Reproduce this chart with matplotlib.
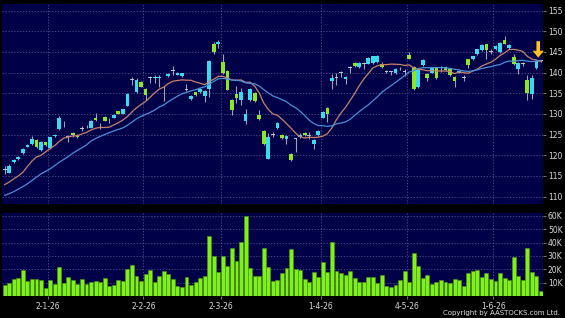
import numpy as np
import pandas as pd
import matplotlib
matplotlib.use("Agg")
import matplotlib.pyplot as plt

# daily OHLC
opens = [116.5, 115.8, 118.3, 119.0, 120.5, 122.0, 122.6, 123.8, 121.3, 123.1,
         121.8, 124.6, 126.4, 127.5, 124.4, 125.5, 125.0, 126.4, 127.0, 126.7,
         129.1, 127.2, 129.3, 128.5, 129.1, 130.6, 130.1, 131.9, 138.2, 135.2,
         137.8, 136.0, 138.7, 138.7, 138.7, 135.0, 139.1, 140.4, 139.5, 139.1,
         135.8, 133.6, 135.2, 135.2, 134.4, 136.0, 146.9, 146.9, 142.5, 140.4,
         133.3, 134.8, 133.3, 128.3, 133.3, 135.1, 129.8, 125.9, 119.2, 125.0,
         126.6, 125.0, 123.9, 120.4, 124.0, 124.4, 125.5, 124.7, 122.8, 124.8,
         129.1, 131.4, 138.0, 138.8, 140.0, 138.5, 141.1, 142.4, 141.3, 142.1,
         142.2, 142.3, 142.5, 142.1, 140.2, 140.2, 139.8, 141.0, 140.2, 144.2,
         141.3, 136.5, 141.8, 139.6, 140.0, 141.0, 141.1, 141.4, 140.8, 139.0,
         140.0, 138.8, 143.2, 143.2, 144.5, 145.5, 146.8, 145.1, 145.7, 144.9,
         147.9, 146.0, 143.8, 140.8, 142.2, 138.3, 134.8, 141.0, 142.8]
closes = [116.5, 117.5, 118.9, 119.5, 121.5, 122.5, 123.9, 122.0, 123.3, 122.5,
          124.3, 125.0, 128.9, 127.5, 124.4, 124.9, 124.4, 126.4, 127.0, 128.3,
          128.5, 127.2, 128.4, 128.5, 129.8, 130.1, 131.1, 134.7, 138.2, 138.2,
          136.6, 134.5, 138.7, 139.0, 138.9, 135.0, 139.6, 140.4, 139.9, 139.8,
          135.8, 134.3, 134.5, 136.0, 135.5, 142.8, 144.9, 147.4, 139.8, 135.9,
          130.9, 133.8, 135.3, 130.1, 136.0, 133.2, 128.7, 122.6, 124.4, 125.0,
          127.9, 124.2, 124.6, 118.9, 124.0, 125.0, 124.8, 124.7, 123.8, 125.8,
          130.4, 130.1, 138.7, 138.8, 140.0, 139.0, 141.1, 141.6, 142.4, 142.1,
          143.6, 143.9, 144.1, 141.3, 140.2, 140.2, 140.8, 141.0, 140.2, 143.4,
          136.0, 140.8, 143.1, 138.7, 141.0, 138.7, 141.1, 140.6, 139.4, 138.0,
          140.4, 138.8, 141.8, 143.9, 145.6, 146.7, 145.5, 145.1, 146.4, 147.2,
          147.0, 146.6, 142.0, 142.4, 142.2, 135.1, 138.6, 142.8, 142.8]
highs = [117.3, 117.8, 119.1, 119.7, 121.7, 122.7, 124.6, 124.0, 123.5, 123.3,
         124.5, 125.2, 129.6, 128.3, 125.0, 125.7, 125.2, 127.0, 127.4, 128.5,
         130.3, 127.7, 129.5, 129.0, 130.0, 130.8, 131.3, 135.0, 138.9, 138.6,
         138.0, 136.2, 139.2, 139.4, 139.3, 136.8, 139.9, 141.5, 140.1, 140.0,
         137.3, 134.5, 135.4, 136.2, 135.7, 143.0, 147.4, 147.8, 144.5, 140.6,
         133.5, 136.8, 136.3, 131.1, 136.2, 135.3, 130.9, 126.1, 125.5, 125.7,
         128.1, 125.2, 124.8, 120.6, 124.2, 125.3, 125.7, 125.6, 124.0, 126.0,
         130.6, 131.6, 139.6, 139.9, 140.4, 139.2, 141.6, 142.6, 142.6, 142.6,
         143.8, 144.1, 144.3, 142.6, 140.6, 140.5, 141.0, 141.4, 140.8, 144.9,
         141.5, 141.0, 143.3, 139.8, 141.2, 141.2, 141.5, 141.6, 141.0, 139.2,
         140.6, 139.3, 143.4, 144.1, 145.8, 146.9, 147.0, 145.6, 146.6, 147.4,
         148.9, 146.8, 144.6, 142.6, 142.6, 139.3, 139.3, 143.0, 143.0]
lows = [115.5, 115.6, 118.1, 118.9, 120.3, 121.9, 122.4, 121.8, 121.1, 122.3,
        121.6, 124.5, 126.2, 126.8, 123.2, 124.4, 124.2, 125.9, 126.5, 126.5,
        128.3, 126.3, 128.2, 127.8, 129.0, 130.0, 130.0, 131.8, 137.0, 135.0,
        136.4, 133.3, 137.5, 137.6, 136.5, 133.2, 138.9, 139.4, 139.3, 138.9,
        135.6, 133.4, 134.3, 135.0, 133.0, 134.1, 144.6, 145.9, 139.6, 135.7,
        129.7, 132.6, 132.1, 127.5, 133.1, 133.0, 128.5, 122.4, 119.0, 124.4,
        126.4, 124.0, 122.6, 118.7, 120.8, 124.2, 124.6, 123.9, 121.4, 124.6,
        128.9, 128.0, 136.0, 136.9, 139.0, 137.2, 140.0, 141.4, 141.1, 140.8,
        142.0, 142.1, 142.3, 141.1, 139.8, 139.5, 139.6, 140.6, 139.1, 143.2,
        135.8, 136.3, 141.6, 138.0, 139.8, 138.5, 140.2, 140.4, 139.2, 136.5,
        139.8, 138.0, 141.0, 143.0, 144.3, 145.3, 143.4, 144.5, 145.5, 144.7,
        146.8, 145.8, 141.8, 139.6, 141.5, 133.4, 133.6, 140.8, 142.6]
volume_k = [8.5, 9.5, 12.5, 13.5, 19.5, 11, 12.5, 13, 12, 5.8,
            11.7, 9.2, 21.7, 10, 14.2, 12, 9, 12.5, 9.2, 10.5,
            11.5, 10.2, 13.5, 7.2, 8, 11.7, 11.5, 20.5, 23.5, 14.7,
            11.5, 16.2, 19.5, 10.7, 15.2, 18.7, 16.5, 12.7, 7.5, 7,
            14.5, 8.5, 10.5, 13.5, 15.2, 44.7, 30.2, 18.2, 30.2, 22.2,
            35.7, 26.2, 40.7, 59.7, 20.7, 15.2, 14.7, 35.7, 21.7, 11.5,
            12.2, 17, 21.2, 35, 20, 19.2, 13, 10.5, 18, 14,
            25.2, 17.7, 40.2, 18.5, 17, 15.5, 18.5, 13.2, 10.7, 10.5,
            14, 14, 9.5, 16, 7.7, 6.5, 8, 12.2, 19, 10.7,
            32, 22.5, 13.5, 16, 9.2, 10.2, 11.7, 10.5, 9.5, 12.7,
            12.2, 7.7, 17.2, 18.7, 19.7, 14.5, 17.5, 13, 11.2, 17.5,
            13.2, 12.2, 29.5, 15.2, 11.7, 35.7, 18, 15, 3.5]

# moving averages before enough history is on screen
ma10_head = [112.9, 113.5, 114.3, 115.0, 115.9, 117.3, 118.6, 119.6, 120.0]
ma20_head = [110.3, 110.7, 111.2, 111.8, 112.4, 113.1, 113.9, 114.7, 115.5, 116.1,
             116.7, 117.5, 118.3, 119.0, 119.7, 120.5, 121.2, 121.8, 122.5]

hk_holidays = ['2025-12-25', '2025-12-26', '2026-01-01', '2026-02-17', '2026-02-18',
               '2026-02-19', '2026-04-03', '2026-04-06', '2026-04-07', '2026-05-01',
               '2026-05-25']
dates = pd.bdate_range('2025-12-16', periods=len(closes), freq='C', holidays=hk_holidays)

BG = '#000048'
GRID = '#52528c'
TXT = '#d8d8d8'
UP = '#38dcf0'
DOWN = '#8ae824'
FLAT = '#c0c0c8'
WICK = '#a0a0b0'

o = np.array(opens)
c = np.array(closes)
h = np.array(highs)
l = np.array(lows)
x = np.arange(len(c))

s = pd.Series(c)
ma10 = s.rolling(10).mean().to_numpy()
ma10[:len(ma10_head)] = ma10_head
ma20 = s.rolling(20).mean().to_numpy()
ma20[:len(ma20_head)] = ma20_head

# month ticks: first trading day of each month (skip the partial December)
month_idx = [i for i in range(1, len(dates)) if dates[i].month != dates[i - 1].month]
month_pos = [i - 0.5 for i in month_idx]
month_lab = [f"{dates[i].day}-{dates[i].month}-{dates[i].strftime('%y')}" for i in month_idx]

fig = plt.figure(figsize=(5.65, 3.18), dpi=100, facecolor='black')
W, H = 565, 318
ax = fig.add_axes([2 / W, 1 - 204 / H, 541 / W, 200 / H], facecolor=BG)
axv = fig.add_axes([2 / W, 1 - 296 / H, 541 / W, 83 / H], facecolor=BG)

for a in (ax, axv):
    for sp in a.spines.values():
        sp.set_visible(False)
    a.set_xlim(-0.6, 118.45)
    a.set_xticks(month_pos)
    a.grid(True, color=GRID, linestyle=(0, (1.5, 2)), linewidth=0.6)
    a.set_axisbelow(True)
    a.yaxis.tick_right()
    a.tick_params(axis='y', colors=TXT, labelsize=5.5, length=2, width=0.6, pad=1.5,
                  color='#888888')

# price panel
ax.set_ylim(108.2, 156.6)
ax.set_yticks(np.arange(110, 156, 5))
ax.tick_params(axis='x', length=0, labelbottom=False)

colors = np.where(c > o, UP, np.where(c < o, DOWN, FLAT))
ax.vlines(x, l, h, color=WICK, linewidth=0.8, zorder=2)
body_low = np.minimum(o, c)
body_h = np.maximum(np.abs(c - o), 0.14)
ax.bar(x, body_h, bottom=body_low, width=0.82, color=colors, edgecolor='none', zorder=3)

ax.plot(x, ma10, color='#c8826a', linewidth=0.9, zorder=4)
ax.plot(x, ma20, color='#4a8fd8', linewidth=0.9, zorder=4)

# marker arrow over the latest session
ax.annotate('', xy=(x[-1] - 0.6, h[-1] + 0.6), xytext=(x[-1] - 0.6, h[-1] + 4.6),
            arrowprops=dict(facecolor='#ffc21a', edgecolor='none', width=2.6,
                            headwidth=8, headlength=5), zorder=6)

# volume panel
axv.set_ylim(0, 62.2)
axv.set_yticks([10, 20, 30, 40, 50, 60])
axv.set_yticklabels([f"{v}K" for v in [10, 20, 30, 40, 50, 60]])
axv.bar(x, volume_k, width=0.86, color='#7ef01a', edgecolor='#4c9a10', linewidth=0.4, zorder=3)
axv.set_xticklabels(month_lab)
axv.tick_params(axis='x', colors=TXT, labelsize=5.5, length=2, width=0.6, pad=2,
                color='#888888')

fig.text(1 - 5 / W, 2 / H, 'Copyright by AASTOCKS.com Ltd.', ha='right', va='bottom',
         fontsize=5, color='#e0e0e0')

fig.savefig('out.png', dpi=100, facecolor='black')
